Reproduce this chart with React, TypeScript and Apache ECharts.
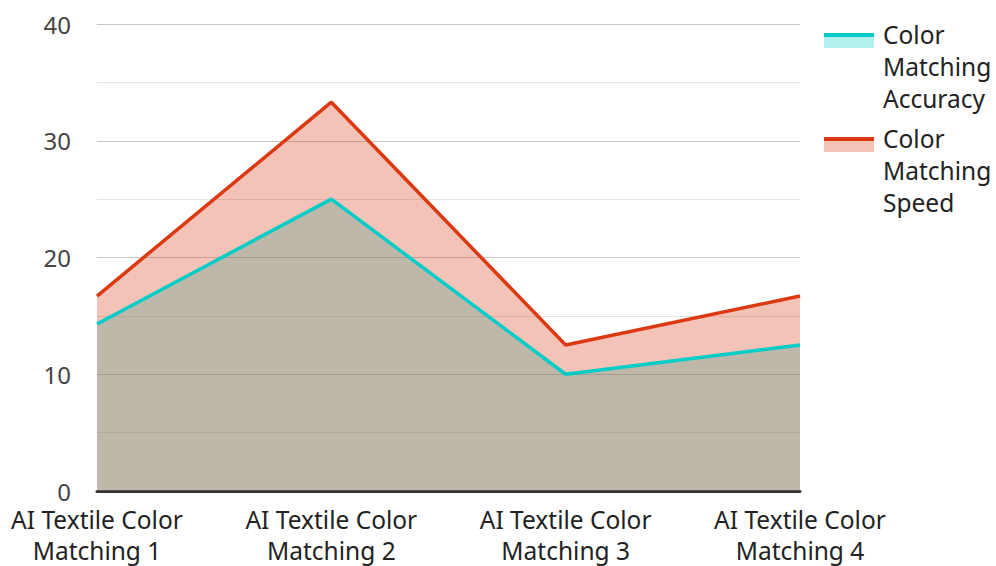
import React, { useEffect, useRef } from "react";
import * as echarts from "echarts";

const categories = [
  "AI Textile Color\nMatching 1",
  "AI Textile Color\nMatching 2",
  "AI Textile Color\nMatching 3",
  "AI Textile Color\nMatching 4",
];
const seriesNames = ["Color Matching Accuracy", "Color Matching Speed"];
const accuracy = [14.3, 25, 10, 12.5];
const speed = [16.7, 33.3, 12.5, 16.7];

const CYAN = "#00cdc8";
const RED = "#dc3912";
const FONT = "Noto Sans";

export default function App() {
  const ref = useRef<HTMLDivElement>(null);
  useEffect(() => {
    if (!ref.current) return;
    const chart = echarts.init(ref.current, null, { renderer: "svg" });
    const legendItems: any[] = [];
    const colors = [CYAN, RED];
    seriesNames.forEach((name, i) => {
      const top = 33 + i * 104;
      legendItems.push(
        { type: "rect", left: 824, top: top + 4, shape: { width: 50, height: 11 }, style: { fill: colors[i], opacity: 0.3 } },
        { type: "rect", left: 824, top: top, shape: { width: 50, height: 4 }, style: { fill: colors[i] } },
        {
          type: "text",
          left: 883,
          top: top - 15,
          style: {
            text: name.split(" ").join("\n"),
            font: `24.5px '${FONT}'`,
            lineHeight: 32,
            fill: "#222",
          },
        }
      );
    });
    chart.setOption({
      animation: false,
      grid: { left: 97, right: 196, top: 24, bottom: 75 },
      xAxis: {
        type: "category",
        data: categories,
        boundaryGap: false,
        axisLine: { show: true, lineStyle: { color: "#333", width: 3 } },
        axisTick: { show: false },
        axisLabel: { fontFamily: FONT, fontSize: 24.5, color: "#222", lineHeight: 31, margin: 13 },
        splitLine: { show: false },
      },
      yAxis: {
        type: "value",
        min: 0,
        max: 40,
        interval: 10,
        axisLine: { show: false },
        axisTick: { show: false },
        axisLabel: { fontFamily: FONT, fontSize: 24, color: "#444", margin: 26 },
        splitLine: { lineStyle: { color: "#c8c8c8", width: 1 } },
        minorTick: { show: false, splitNumber: 2 },
        minorSplitLine: { show: true, lineStyle: { color: "#e3e3e3", width: 1 } },
      },
      series: [
        {
          name: seriesNames[0],
          type: "line",
          data: accuracy,
          showSymbol: false,
          lineStyle: { width: 0, color: CYAN },
          itemStyle: { color: CYAN },
          areaStyle: { color: CYAN, opacity: 0.3 },
          z: 2,
        },
        {
          name: seriesNames[1],
          type: "line",
          data: speed,
          showSymbol: false,
          lineStyle: { width: 3.5, color: RED },
          itemStyle: { color: RED },
          areaStyle: { color: RED, opacity: 0.3 },
          z: 3,
        },
        {
          name: seriesNames[0],
          type: "line",
          data: accuracy,
          showSymbol: false,
          lineStyle: { width: 3.5, color: CYAN },
          itemStyle: { color: CYAN },
          z: 4,
        },
      ],
      graphic: legendItems,
    });
    return () => chart.dispose();
  }, []);
  return <div ref={ref} style={{ width: 996, height: 566, position: "absolute", left: 0, top: 0 }} />;
}
